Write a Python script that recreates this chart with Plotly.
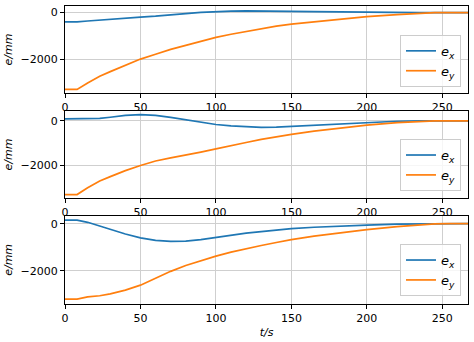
import plotly.graph_objects as go

# time samples (s)
t = [0, 8, 15, 23, 30, 40, 50, 60, 70, 80, 90, 100, 110, 120, 130, 140,
     150, 165, 180, 200, 220, 235, 245, 255, 267]

# tracking errors (mm), one pair per run
ex1 = [-400, -400, -360, -315, -280, -230, -190, -150, -110, -40, 10, 45, 65,
       75, 75, 65, 55, 40, 25, 10, 3, 0, 0, 0, 0]
ey1 = [-3305, -3305, -3030, -2740, -2540, -2260, -2000, -1790, -1580, -1410,
       -1230, -1064, -930, -810, -680, -580, -496, -390, -290, -170, -85, -25,
       0, 0, 0]

ex2 = [90, 90, 90, 110, 160, 240, 280, 245, 150, 40, -80, -165, -225, -270,
       -295, -285, -255, -195, -140, -74, -20, -5, 0, 0, 0]
ey2 = [-3304, -3304, -3000, -2700, -2500, -2230, -2000, -1800, -1660, -1540,
       -1400, -1259, -1100, -970, -830, -710, -607, -460, -340, -193, -85, -25,
       0, 0, 0]

ex3 = [155, 155, 60, -100, -250, -440, -606, -710, -755, -745, -680, -577,
       -480, -400, -340, -270, -211, -150, -105, -56, -20, -5, 0, 0, 0]
ey3 = [-3211, -3211, -3120, -3070, -2990, -2830, -2620, -2330, -2030, -1780,
       -1570, -1380, -1210, -1060, -930, -800, -676, -530, -400, -254, -120,
       -40, -5, 0, 0]

runs = [(ex1, ey1), (ex2, ey2), (ex3, ey3)]
y_ranges = [[-3460, 285], [-3467, 444], [-3422, 338]]
domains = [[0.708, 1.0], [0.355, 0.648], [0.0, 0.296]]
legend_y = [0.7286, 0.379, 0.0266]

BLUE = "#1f77b4"
ORANGE = "#ff7f0e"
FONT = "DejaVu Sans"

fig = go.Figure()
layout = {}
for i, (ex, ey) in enumerate(runs):
    n = "" if i == 0 else str(i + 1)
    leg = "legend" + n
    fig.add_trace(go.Scatter(x=t, y=ex, mode="lines", name="<i>e</i><sub><i>x</i></sub>",
                             line=dict(color=BLUE, width=1.7),
                             xaxis="x" + n, yaxis="y" + n, legend=leg))
    fig.add_trace(go.Scatter(x=t, y=ey, mode="lines", name="<i>e</i><sub><i>y</i></sub>",
                             line=dict(color=ORANGE, width=1.7),
                             xaxis="x" + n, yaxis="y" + n, legend=leg))
    axis_common = dict(showline=True, linecolor="black", linewidth=1, mirror=True,
                       ticks="outside", ticklen=4, tickcolor="black",
                       showgrid=True, gridcolor="#cfcfcf", gridwidth=1,
                       zeroline=False, tickfont=dict(family=FONT, size=11, color="black"))
    layout["xaxis" + n] = dict(axis_common, domain=[0, 1], range=[0, 267],
                               tickvals=[0, 50, 100, 150, 200, 250],
                               anchor="y" + n)
    layout["yaxis" + n] = dict(axis_common, domain=domains[i], range=y_ranges[i],
                               tickvals=[-2000, 0], anchor="x" + n,
                               title=dict(text="<i>e/mm</i>", standoff=5,
                                          font=dict(family=FONT, size=11, color="black")))
    layout[leg] = dict(x=0.9826, xanchor="right", y=legend_y[i], yanchor="bottom",
                       bgcolor="rgba(255,255,255,0.8)", bordercolor="#cccccc",
                       borderwidth=1, font=dict(family=FONT, size=13, color="black"),
                       tracegroupgap=0)

layout["xaxis3"]["title"] = dict(text="<i>t/s</i>", standoff=4,
                                 font=dict(family=FONT, size=11, color="black"))

fig.update_layout(**layout)
fig.update_layout(width=474, height=342, margin=dict(l=65, r=6, t=5, b=36),
                  plot_bgcolor="white", paper_bgcolor="white", showlegend=True,
                  font=dict(family=FONT, size=11, color="black"))

fig.write_html("out.html")
